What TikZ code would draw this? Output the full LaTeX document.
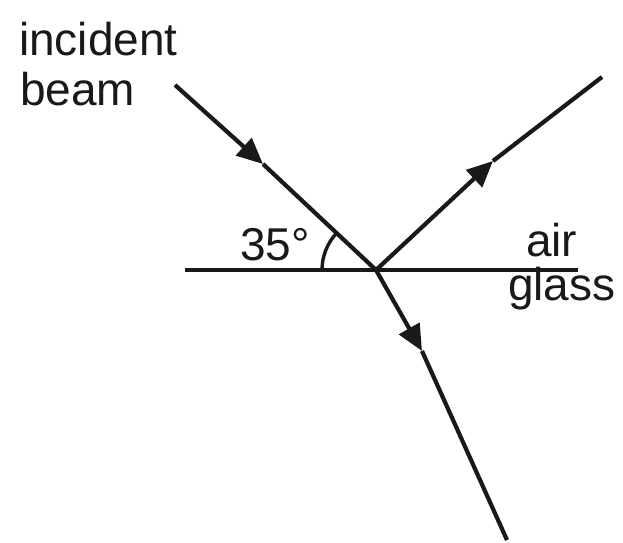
\documentclass[tikz,border=0pt]{standalone}
\usepackage{fontspec}
\setmainfont{Liberation Sans}
\usetikzlibrary{arrows.meta}
\begin{document}
\begin{tikzpicture}[x=1pt,y=-1pt,
  ray/.style={line width=4.2pt,color=black!90,line join=miter},
  headed/.style={ray,-{Triangle[length=26pt,width=23pt]}},
  lbl/.style={anchor=base west,inner sep=0pt,font=\fontsize{46}{55}\selectfont,text=black!90}]
\useasboundingbox (0,0) rectangle (623,542);
% points
\coordinate (O) at (376,270);
\coordinate (A) at (175,85);
\coordinate (Ah) at (263,164);
\coordinate (R) at (602,77);
\coordinate (Rh) at (493,161);
\coordinate (T) at (507,540);
\coordinate (Th) at (422,351);
\coordinate (L) at (185,270);
\coordinate (Rt) at (578,270);
% boundary
\draw[ray] (L) -- (Rt);
% incident
\draw[headed] (A) -- (Ah);
\draw[ray] (Ah) -- (O);
% reflected
\draw[headed] (O) -- (Rh);
\draw[ray] (Rh) -- (R);
% refracted
\draw[headed] (O) -- (Th);
\draw[ray] (Th) -- (T);
% angle arc
\draw[ray,line width=3.4pt] ([shift={(137.4:54pt)}]O) arc[start angle=137.4,end angle=180,radius=54pt];
% labels
\node[lbl] (inc) at (19,55) {incident};
\node[lbl] (beam) at (20,105) {beam};
\node[lbl] (ang) at (240,260) {35°};
\node[lbl] (air) at (526,256) {air};
\node[lbl] (glass) at (508,300) {glass};
\end{tikzpicture}
\end{document}
